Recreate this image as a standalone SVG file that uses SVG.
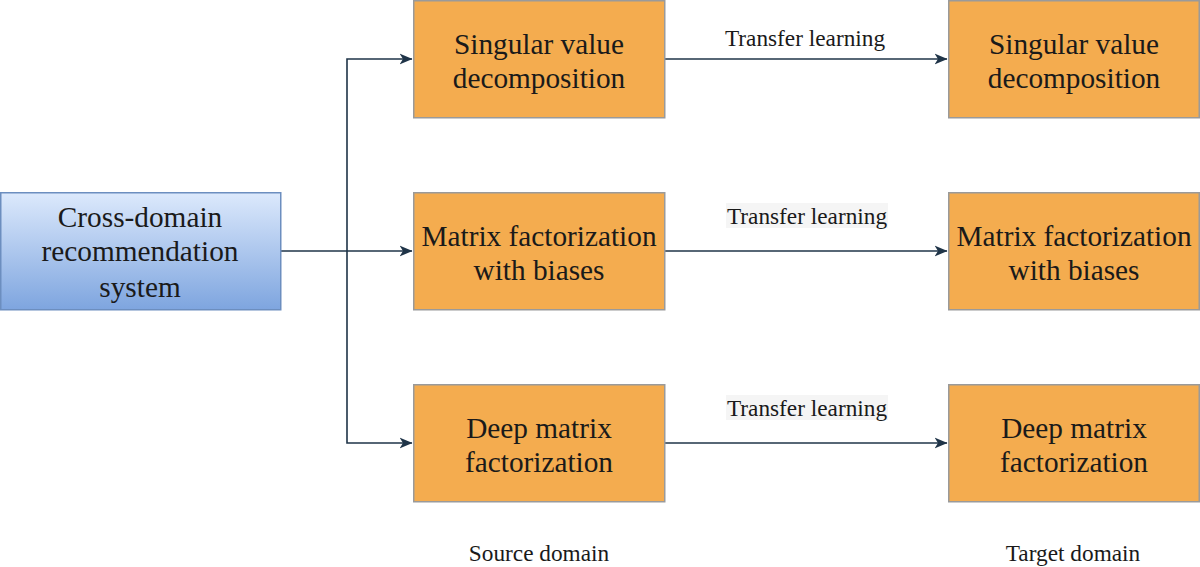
<svg xmlns="http://www.w3.org/2000/svg" width="1200" height="567" viewBox="0 0 1200 567">
<style>
.box{fill:#f4ac4f;stroke:#9a9a9a;stroke-width:1.5}
.t{font-family:"Liberation Serif","Times New Roman",serif;font-size:29.3px;fill:#1a1a1a;text-anchor:middle}
.l{font-family:"Liberation Serif","Times New Roman",serif;font-size:23.3px;fill:#1a1a1a;text-anchor:middle}
.c{fill:none;stroke:#1f3448;stroke-width:1.6}
.bg{fill:#f5f5f5}
</style>
<defs>
<linearGradient id="g" x1="0" y1="0" x2="0" y2="1">
<stop offset="0" stop-color="#dce9fc"/>
<stop offset="1" stop-color="#7ea5df"/>
</linearGradient>
<marker id="a" viewBox="0 0 13 12" refX="12.5" refY="6" markerWidth="13" markerHeight="12" markerUnits="userSpaceOnUse" orient="auto">
<path d="M0,0.5 L13,6 L0,11.5 L3.5,6 Z" fill="#1f3448"/>
</marker>
</defs>
<g id="connectors">
<path class="c" d="M281,251 L412,251" marker-end="url(#a)"/>
<path class="c" d="M347,251 L347,59 L412,59" marker-end="url(#a)"/>
<path class="c" d="M347,251 L347,443 L412,443" marker-end="url(#a)"/>
<path class="c" d="M665,59 L947,59" marker-end="url(#a)"/>
<path class="c" d="M665,251 L947,251" marker-end="url(#a)"/>
<path class="c" d="M665,443 L947,443" marker-end="url(#a)"/>
<text class="l" x="805" y="46">Transfer learning</text>
<rect class="bg" x="726" y="203" width="162" height="25"/>
<text class="l" x="807" y="224">Transfer learning</text>
<rect class="bg" x="726" y="395" width="162" height="25"/>
<text class="l" x="807" y="416">Transfer learning</text>
</g>
<g id="cdrs">
<rect x="0.75" y="192.75" width="280" height="117" fill="url(#g)" stroke="#6c8ebf" stroke-width="1.5"/>
<text class="t" x="140" y="227">Cross-domain</text>
<text class="t" x="140" y="261">recommendation</text>
<text class="t" x="140" y="297">system</text>
</g>
<g id="svd-src">
<rect class="box" x="413.75" y="0.75" width="251" height="117"/>
<text class="t" x="539" y="54">Singular value</text>
<text class="t" x="539" y="88">decomposition</text>
</g>
<g id="mfb-src">
<rect class="box" x="413.75" y="192.75" width="251" height="117"/>
<text class="t" x="539" y="246">Matrix factorization</text>
<text class="t" x="539" y="280">with biases</text>
</g>
<g id="dmf-src">
<rect class="box" x="413.75" y="384.75" width="251" height="117"/>
<text class="t" x="539" y="438">Deep matrix</text>
<text class="t" x="539" y="472">factorization</text>
</g>
<g id="svd-tgt">
<rect class="box" x="948.75" y="0.75" width="250.5" height="117"/>
<text class="t" x="1074" y="54">Singular value</text>
<text class="t" x="1074" y="88">decomposition</text>
</g>
<g id="mfb-tgt">
<rect class="box" x="948.75" y="192.75" width="250.5" height="117"/>
<text class="t" x="1074" y="246">Matrix factorization</text>
<text class="t" x="1074" y="280">with biases</text>
</g>
<g id="dmf-tgt">
<rect class="box" x="948.75" y="384.75" width="250.5" height="117"/>
<text class="t" x="1074" y="438">Deep matrix</text>
<text class="t" x="1074" y="472">factorization</text>
</g>
<g id="domains">
<text class="l" x="539" y="561">Source domain</text>
<text class="l" x="1073" y="561">Target domain</text>
</g>
</svg>
